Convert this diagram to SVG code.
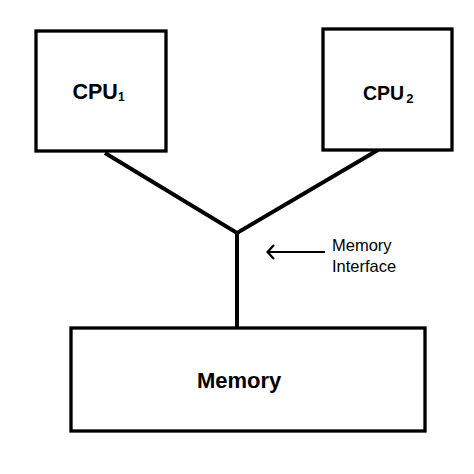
<svg xmlns="http://www.w3.org/2000/svg" width="474" height="474" viewBox="0 0 474 474">
<style>
.box{fill:#fff;stroke:#000;stroke-width:3.3}
.conn{stroke:#000;stroke-width:4;fill:none;stroke-linejoin:miter}
.lbl{font-family:"Liberation Sans",Arial,sans-serif;font-weight:bold;fill:#000}
.note{font-family:"Liberation Sans",Arial,sans-serif;font-size:16.5px;fill:#000}
</style>
<rect width="474" height="474" fill="#fff"/>
<g id="connectors">
<polyline class="conn" points="105,153 237,233 378,150"/>
<line class="conn" x1="237" y1="233" x2="237" y2="328"/>
<line x1="325" y1="252" x2="268" y2="252" stroke="#000" stroke-width="2"/>
<polyline points="274,245 267.5,252 274,259" fill="none" stroke="#000" stroke-width="2.2"/>
</g>
<g id="cpu1">
<rect class="box" x="36" y="31" width="130" height="120"/>
<text class="lbl" x="72.5" y="99" font-size="21.5">CPU<tspan font-size="12" dy="2">1</tspan></text>
</g>
<g id="cpu2">
<rect class="box" x="323" y="29" width="129" height="121"/>
<text class="lbl" x="363" y="99.5" font-size="19.5">CPU<tspan font-size="13" dx="2" dy="3">2</tspan></text>
</g>
<g id="memory">
<rect class="box" x="71" y="328" width="354" height="103"/>
<text class="lbl" x="197" y="388" font-size="22">Memory</text>
</g>
<g id="interface-label">
<text class="note" x="332" y="251">Memory</text>
<text class="note" x="332" y="272">Interface</text>
</g>
</svg>
